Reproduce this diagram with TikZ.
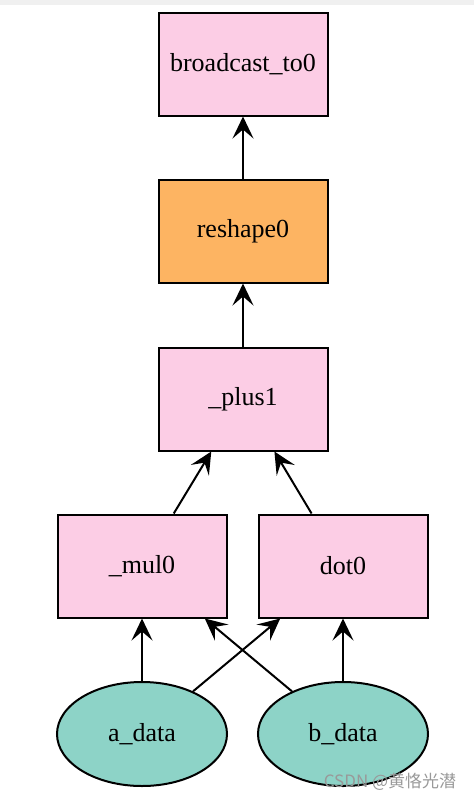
\documentclass[tikz,border=0pt]{standalone}
\usepackage{fontspec}
\setmainfont{Liberation Serif}
\newfontfamily\cjk{Noto Sans CJK SC}
\usetikzlibrary{arrows.meta,shapes.geometric}
\definecolor{oppink}{HTML}{FCCDE5}
\definecolor{oporange}{HTML}{FDB462}
\definecolor{datateal}{HTML}{8DD3C7}
\begin{document}
\begin{tikzpicture}[x=1pt,y=-1pt,
  opbox/.style={draw,line width=2pt,fill=oppink,minimum width=169pt,minimum height=103pt,inner sep=0pt,font=\fontsize{26}{30}\selectfont},
  datanode/.style={draw,line width=2pt,ellipse,fill=datateal,minimum width=170pt,minimum height=104pt,inner sep=0pt,font=\fontsize{26}{30}\selectfont},
  flow/.style={line width=2pt,-{Stealth[length=22pt,width=21pt,inset=9pt]}}]
\useasboundingbox (0,0) rectangle (474,801);
\fill[black!6] (0,0) rectangle (474,5);
% operators
\node[opbox] (bcast) at (243,64) {broadcast\_to0};
\node[opbox,fill=oporange] (reshape) at (243,231) {reshape0};
\node[opbox] (plus) at (243,399) {\_plus1};
\node[opbox] (mul) at (142,566) {\_mul0};
\node[opbox] (dot) at (343,566) {dot0};
% inputs
\node[datanode] (adata) at (142,734) {a\_data};
\node[datanode] (bdata) at (343,734) {b\_data};
\draw[flow] (adata) -- (mul);
\draw[flow] (adata) -- (dot);
\draw[flow] (bdata) -- (mul);
\draw[flow] (bdata) -- (dot);
\draw[flow] (mul) -- (plus);
\draw[flow] (dot) -- (plus);
\draw[flow] (plus) -- (reshape);
\draw[flow] (reshape) -- (bcast);
\node[text=black!40,font=\cjk\fontsize{17}{19}\selectfont] (mark) at (390,782) {CSDN @黄恪光潜};
\end{tikzpicture}
\end{document}
